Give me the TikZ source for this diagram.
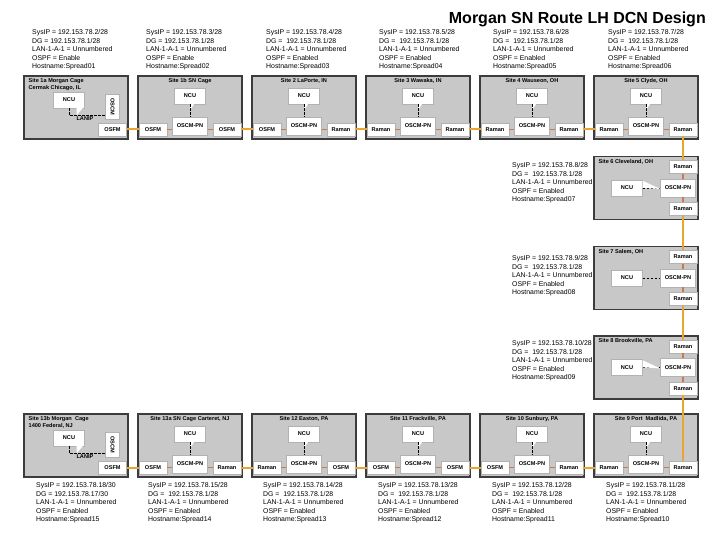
\documentclass[tikz,border=0pt]{standalone}
\usepackage{fontspec}
\setmainfont{Liberation Sans}
\usepackage{tikz}
\usetikzlibrary{calc}
\usepackage{xcolor}

\definecolor{cagegray}{RGB}{200,200,200}
\definecolor{cageedge}{RGB}{60,60,60}
\definecolor{fibergold}{RGB}{234,164,48}
\definecolor{patchbrown}{RGB}{200,122,78}

\begin{document}
\begin{tikzpicture}[x=1pt,y=-1pt,
    site/.style={draw=cageedge, fill=cagegray, line width=1.1pt, minimum width=104pt, minimum height=63pt, inner sep=0pt},
    sitename/.style={font=\bfseries\fontsize{5.6}{6.8}\selectfont, inner sep=2pt},
    module/.style={draw=gray!60, fill=white, font=\bfseries\fontsize{5.6}{6}\selectfont, minimum width=28pt, minimum height=13pt, inner sep=0pt},
    ncu/.style={module, minimum width=31pt, minimum height=16pt},
    oscm/.style={module, minimum width=35pt, minimum height=18pt},
    fiber/.style={draw=fibergold, line width=2pt},
    patch/.style={draw=patchbrown, line width=1.4pt},
    mgmt/.style={draw=black, line width=0.8pt, dash pattern=on 2.5pt off 1.5pt},
    wedge/.style={fill=white},
    info/.style={anchor=north west, align=left, inner sep=0pt, font=\fontsize{6.9}{8.5}\selectfont}]
        \useasboundingbox (0,0) rectangle (720,540);

        \node[font=\bfseries\fontsize{16}{19}\selectfont, anchor=base east, inner sep=0pt] (title) at (706,24) {Morgan SN Route LH DCN Design};

        % Cage sites at both ends
        \foreach \n/\cy/\ttl in {s1a/107.5/{Site 1a Morgan Cage\\Cermak Chicago, IL},
                                 s13b/445.5/{Site 13b Morgan~ Cage\\1400 Federal, NJ}} {
            \node[site] (\n) at (76,\cy) {};
            \node[sitename, align=left, anchor=north west] (\n-name) at ([xshift=3pt,yshift=-1pt]\n.north west) {\ttl};
            \node[ncu] (\n-ncu) at (69,\cy-7.5) {NCU};
            \node[module, minimum width=14pt, minimum height=25pt] (\n-oscm) at (112.5,\cy-1) {\rotatebox{-90}{OSCM}};
            \node[module] (\n-r) at (112.5,\cy+22) {OSFM};
            \fill[wedge] ([xshift=-8pt]\n-ncu.south east) -- ([xshift=-2pt]\n-ncu.south east) -- ([xshift=-8pt,yshift=-7pt]\n-ncu.south east) -- cycle;
            \draw[mgmt] (\n-ncu.south) |- node[pos=0.72, below, font=\bfseries\fontsize{5.6}{6}\selectfont, inner sep=1.5pt] (\n-lanip) {LANIP} ([yshift=4pt]\n-oscm.south west);
        }

        % Sites along the top and bottom rows
        \foreach \n/\cx/\cy/\ttl/\lft/\rgt in {
                s1b/190/107.5/{Site 1b SN Cage}/OSFM/OSFM,
                s2/304/107.5/{Site 2 LaPorte, IN}/OSFM/Raman,
                s3/418/107.5/{Site 3 Wawaka, IN}/Raman/Raman,
                s4/532/107.5/{Site 4 Wauseon, OH}/Raman/Raman,
                s5/646/107.5/{Site 5 Clyde, OH}/Raman/Raman,
                s13a/190/445.5/{Site 13a SN Cage Carteret, NJ}/OSFM/Raman,
                s12/304/445.5/{Site 12 Easton, PA}/Raman/OSFM,
                s11/418/445.5/{Site 11 Frackville, PA}/OSFM/OSFM,
                s10/532/445.5/{Site 10 Sunbury, PA}/OSFM/Raman,
                s9/646/445.5/{Site 9 Port~ Madlida, PA}/Raman/Raman} {
            \node[site] (\n) at (\cx,\cy) {};
            \node[sitename, anchor=north] (\n-name) at ([yshift=-1pt]\n.north) {\ttl};
            \node[ncu] (\n-ncu) at (\cx,\cy-11.5) {NCU};
            \node[oscm] (\n-oscm) at (\cx,\cy+18.5) {OSCM-PN};
            \node[module] (\n-l) at (\cx-37,\cy+22) {\lft};
            \node[module] (\n-r) at (\cx+37,\cy+22) {\rgt};
            \draw[patch] (\n-l.east) -- (\n-l.east -| \n-oscm.west);
            \draw[patch] (\n-r.west -| \n-oscm.east) -- (\n-r.west);
            \fill[wedge] (\n-ncu.south) -- ([xshift=4pt]\n-ncu.south) -- ([yshift=-6pt]\n-ncu.south) -- cycle;
            \draw[mgmt] (\n-ncu) -- (\n-oscm);
        }

        % Sites down the right side
        \foreach \n/\cy/\ttl in {s6/188/{Site 6 Cleveland, OH},
                                 s7/278/{Site 7 Salem, OH},
                                 s8/367.5/{Site 8 Brookville, PA}} {
            \node[site] (\n) at (646,\cy) {};
            \node[sitename, anchor=north west] (\n-name) at ([xshift=3pt,yshift=-1pt]\n.north west) {\ttl};
            \node[module] (\n-t) at (683,\cy-21) {Raman};
            \node[oscm] (\n-oscm) at (678,\cy) {OSCM-PN};
            \node[ncu] (\n-ncu) at (627,\cy) {NCU};
            \node[module] (\n-b) at (683,\cy+21) {Raman};
            \draw[patch] (\n-t) -- (\n-t |- \n-oscm.north);
            \draw[patch] (\n-b |- \n-oscm.south) -- (\n-b);
            \draw[mgmt] (\n-ncu) -- (\n-oscm);
        }
        \foreach \n in {s6, s8}
            \fill[wedge] ([yshift=-1pt]\n-ncu.north east) -- ([yshift=-1pt]\n-oscm.west) -- ([yshift=-8pt]\n-ncu.north east) -- cycle;

        % Fiber spans between sites
        \foreach \a/\b in {s1a-r/s1b-l, s1b-r/s2-l, s2-r/s3-l, s3-r/s4-l, s4-r/s5-l,
                           s5-r/s6-t, s6-b/s7-t, s7-b/s8-t, s8-b/s9-r,
                           s13b-r/s13a-l, s13a-r/s12-l, s12-r/s11-l, s11-r/s10-l, s10-r/s9-l}
            \draw[fiber] (\a) -- (\b);

        % Node settings
        \foreach \x/\y/\ip/\dg/\os/\h in {
                32/29.5/{192.153.78.2/28}/{192.153.78.1/28}/Enable/Spread01,
                146/29.5/{192.153.78.3/28}/{192.153.78.1/28}/Enable/Spread02,
                266/29.5/{192.153.78.4/28}/{\ 192.153.78.1/28}/Enabled/Spread03,
                379/29.5/{192.153.78.5/28}/{\ 192.153.78.1/28}/Enabled/Spread04,
                493/29.5/{192.153.78.6/28}/{\ 192.153.78.1/28}/Enabled/Spread05,
                608/29.5/{192.153.78.7/28}/{\ 192.153.78.1/28}/Enabled/Spread06,
                512/162.5/{192.153.78.8/28}/{\ 192.153.78.1/28}/Enabled/Spread07,
                512/255.5/{192.153.78.9/28}/{\ 192.153.78.1/28}/Enabled/Spread08,
                512/340.5/{192.153.78.10/28}/{\ 192.153.78.1/28}/Enabled/Spread09,
                606/482.5/{192.153.78.11/28}/{\ 192.153.78.1/28}/Enabled/Spread10,
                492/482.5/{192.153.78.12/28}/{\ 192.153.78.1/28}/Enabled/Spread11,
                378/482.5/{192.153.78.13/28}/{\ 192.153.78.1/28}/Enabled/Spread12,
                263/482.5/{192.153.78.14/28}/{\ 192.153.78.1/28}/Enabled/Spread13,
                148/482.5/{192.153.78.15/28}/{\ 192.153.78.1/28}/Enabled/Spread14,
                36/482.5/{192.153.78.18/30}/{192.153.78.17/30}/Enabled/Spread15}
            \node[info] (\h) at (\x,\y) {SysIP = \ip\\DG = \dg\\LAN-1-A-1 = Unnumbered\\OSPF = \os\\Hostname:\h};

    \end{tikzpicture}
\end{document}
